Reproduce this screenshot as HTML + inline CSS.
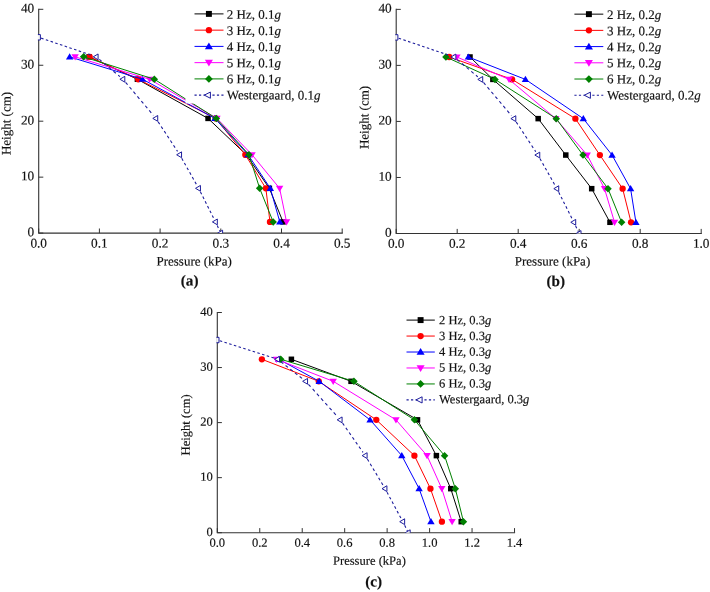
<!DOCTYPE html>
<html lang="en">
<head>
<meta charset="utf-8">
<title>Hydrodynamic pressure distribution along height</title>
<style>
html,body{margin:0;padding:0;background:#fff;}
body{width:710px;height:592px;overflow:hidden;}
svg{display:block;font-family:"Liberation Serif","Times New Roman",serif;}
text{fill:#111;stroke:#111;stroke-width:0.16px;}
.b{font-weight:bold;}
.i{font-style:italic;}
</style>
</head>
<body>
<svg width="710" height="592" viewBox="0 0 710 592">
<rect width="710" height="592" fill="#fff"/>

<g id="panel-a" font-size="13">
<clipPath id="clip-a"><rect x="37.5" y="3.3" width="311.5" height="229.8"/></clipPath>
<polyline points="89.08,56.86 137.4,79.24 208.05,118.4 246.29,154.77 269.36,188.34 283.02,221.91" fill="none" stroke="#000000" stroke-width="1.0" stroke-linejoin="round"/>
<rect x="86.33" y="54.11" width="5.5" height="5.5" fill="#000000"/>
<rect x="134.65" y="76.49" width="5.5" height="5.5" fill="#000000"/>
<rect x="205.3" y="115.65" width="5.5" height="5.5" fill="#000000"/>
<rect x="243.54" y="152.02" width="5.5" height="5.5" fill="#000000"/>
<rect x="266.61" y="185.59" width="5.5" height="5.5" fill="#000000"/>
<rect x="280.27" y="219.16" width="5.5" height="5.5" fill="#000000"/>
<polyline points="89.69,56.86 138.25,79.24 215.64,118.4 245.32,154.77 265.84,188.34 269.97,221.91" fill="none" stroke="#ff0000" stroke-width="1.0" stroke-linejoin="round"/>
<circle cx="89.69" cy="56.86" r="3.15" fill="#ff0000"/>
<circle cx="138.25" cy="79.24" r="3.15" fill="#ff0000"/>
<circle cx="215.64" cy="118.4" r="3.15" fill="#ff0000"/>
<circle cx="245.32" cy="154.77" r="3.15" fill="#ff0000"/>
<circle cx="265.84" cy="188.34" r="3.15" fill="#ff0000"/>
<circle cx="269.97" cy="221.91" r="3.15" fill="#ff0000"/>
<polyline points="69.66,56.86 142.5,79.24 214.91,118.4 248.12,154.77 270.33,188.34 279.8,221.91" fill="none" stroke="#0000ff" stroke-width="1.0" stroke-linejoin="round"/>
<path d="M69.66 53.26L73.36 59.46L65.96 59.46Z" fill="#0000ff"/>
<path d="M142.5 75.64L146.2 81.84L138.8 81.84Z" fill="#0000ff"/>
<path d="M214.91 114.8L218.61 121L211.21 121Z" fill="#0000ff"/>
<path d="M248.12 151.17L251.81 157.37L244.42 157.37Z" fill="#0000ff"/>
<path d="M270.33 184.74L274.03 190.94L266.63 190.94Z" fill="#0000ff"/>
<path d="M279.8 218.31L283.5 224.51L276.1 224.51Z" fill="#0000ff"/>
<polyline points="75.12,56.86 149.6,79.24 216.92,118.4 252.06,154.77 279.62,188.34 286.54,221.91" fill="none" stroke="#ff00ff" stroke-width="1.0" stroke-linejoin="round"/>
<path d="M75.12 60.46L78.82 54.26L71.42 54.26Z" fill="#ff00ff"/>
<path d="M149.6 82.84L153.3 76.64L145.9 76.64Z" fill="#ff00ff"/>
<path d="M216.92 122L220.62 115.8L213.22 115.8Z" fill="#ff00ff"/>
<path d="M252.06 158.37L255.76 152.17L248.36 152.17Z" fill="#ff00ff"/>
<path d="M279.62 191.94L283.32 185.74L275.92 185.74Z" fill="#ff00ff"/>
<path d="M286.54 225.51L290.24 219.31L282.84 219.31Z" fill="#ff00ff"/>
<polyline points="83.62,56.86 154.33,79.24 216.31,118.4 249.03,154.77 259.65,188.34 273.18,221.91" fill="none" stroke="#008000" stroke-width="1.0" stroke-linejoin="round"/>
<path d="M83.62 53.11L87.37 56.86L83.62 60.61L79.87 56.86Z" fill="#008000"/>
<path d="M154.33 75.49L158.08 79.24L154.33 82.99L150.58 79.24Z" fill="#008000"/>
<path d="M216.31 114.65L220.06 118.4L216.31 122.15L212.56 118.4Z" fill="#008000"/>
<path d="M249.03 151.02L252.78 154.77L249.03 158.52L245.28 154.77Z" fill="#008000"/>
<path d="M259.65 184.59L263.4 188.34L259.65 192.09L255.9 188.34Z" fill="#008000"/>
<path d="M273.18 218.16L276.93 221.91L273.18 225.66L269.43 221.91Z" fill="#008000"/>
<rect x="185.5" y="2" width="170" height="101.5" fill="#fff"/>
<g clip-path="url(#clip-a)" fill="none" stroke="#1c1c9c" stroke-width="1.1">
<path d="M41.16 38.11L92.5 55.57" stroke-dasharray="2.53 2.43"/>
<path d="M99.35 59.43L119.93 76.67" stroke-dasharray="3.13 3"/>
<path d="M125.57 82.3L153.34 115.34" stroke-dasharray="3.13 3"/>
<path d="M158.1 121.75L177.56 151.42" stroke-dasharray="2.87 2.75"/>
<path d="M181.72 158.26L196.68 184.85" stroke-dasharray="2.75 2.64"/>
<path d="M200.44 191.91L213.72 218.34" stroke-dasharray="2.69 2.57"/>
<path d="M217.23 225.53L219.95 231.29" stroke-dasharray="2.65 2.54"/>
</g>
<g stroke="#333333" stroke-width="1.1" fill="none">
<path d="M38.7 8.7V233.1H342.8"/>
<path d="M38.7 233.1h4.6M38.7 177.15h4.6M38.7 121.2h4.6M38.7 65.25h4.6M38.7 9.3h4.6M38.7 233.1v-4.6M99.4 233.1v-4.6M160.1 233.1v-4.6M220.8 233.1v-4.6M281.5 233.1v-4.6M342.2 233.1v-4.6" stroke-width="1"/>
</g>
<g clip-path="url(#clip-a)">
<path d="M37.8 34.58H40.4V39.98H37.8" fill="#f4f4f4" stroke="#1c1c9c" stroke-width="1"/>
<path d="M93.19 56.86L98.09 53.96L98.09 59.76Z" fill="#fff" stroke="#1c1c9c" stroke-width="1"/>
<path d="M119.9 79.24L124.8 76.34L124.8 82.14Z" fill="#fff" stroke="#1c1c9c" stroke-width="1"/>
<path d="M152.81 118.4L157.71 115.5L157.71 121.3Z" fill="#fff" stroke="#1c1c9c" stroke-width="1"/>
<path d="M176.65 154.77L181.55 151.87L181.55 157.67Z" fill="#fff" stroke="#1c1c9c" stroke-width="1"/>
<path d="M195.54 188.34L200.44 185.44L200.44 191.24Z" fill="#fff" stroke="#1c1c9c" stroke-width="1"/>
<path d="M212.42 221.91L217.32 219.01L217.32 224.81Z" fill="#fff" stroke="#1c1c9c" stroke-width="1"/>
<path d="M217.7 233.1L222.6 230.2L222.6 236Z" fill="#fff" stroke="#1c1c9c" stroke-width="1"/>
</g>
<g text-anchor="end" font-size="13.3">
<text transform="translate(34.2 236.3) rotate(0.03)" font-size="13.3" text-anchor="end">0</text>
<text transform="translate(34.2 180.35) rotate(0.03)" font-size="13.3" text-anchor="end">10</text>
<text transform="translate(34.2 124.4) rotate(0.03)" font-size="13.3" text-anchor="end">20</text>
<text transform="translate(34.2 68.45) rotate(0.03)" font-size="13.3" text-anchor="end">30</text>
<text transform="translate(34.2 12.5) rotate(0.03)" font-size="13.3" text-anchor="end">40</text>
</g>
<g text-anchor="middle" font-size="13.3">
<text transform="translate(38.7 247.45) rotate(0.03)" font-size="13.3" text-anchor="middle">0.0</text>
<text transform="translate(99.4 247.45) rotate(0.03)" font-size="13.3" text-anchor="middle">0.1</text>
<text transform="translate(160.1 247.45) rotate(0.03)" font-size="13.3" text-anchor="middle">0.2</text>
<text transform="translate(220.8 247.45) rotate(0.03)" font-size="13.3" text-anchor="middle">0.3</text>
<text transform="translate(281.5 247.45) rotate(0.03)" font-size="13.3" text-anchor="middle">0.4</text>
<text transform="translate(342.2 247.45) rotate(0.03)" font-size="13.3" text-anchor="middle">0.5</text>
</g>
<text transform="translate(194.2 265.45) rotate(0.03)" font-size="13" text-anchor="middle">Pressure (kPa)</text>
<text transform="translate(189.6 285.5) rotate(0.03)" font-size="15.2" text-anchor="middle" class="b">(a)</text>
<text transform="translate(10.5 123.5) rotate(-90.03)" font-size="13" text-anchor="middle">Height (cm)</text>
<path d="M194.5 13.9H223.5" stroke="#000000" stroke-width="1.0"/>
<rect x="205.93" y="10.93" width="5.94" height="5.94" fill="#000000"/>
<text transform="translate(226.8 18.8) rotate(0.03)" font-size="13">2 Hz, 0.1<tspan class="i">g</tspan></text>
<path d="M194.5 30.15H223.5" stroke="#ff0000" stroke-width="1.0"/>
<circle cx="208.9" cy="30.15" r="3.15" fill="#ff0000"/>
<text transform="translate(226.8 34.91) rotate(0.03)" font-size="13">3 Hz, 0.1<tspan class="i">g</tspan></text>
<path d="M194.5 46.4H223.5" stroke="#0000ff" stroke-width="1.0"/>
<path d="M208.9 42.48L212.93 49.23L204.87 49.23Z" fill="#0000ff"/>
<text transform="translate(226.8 51.02) rotate(0.03)" font-size="13">4 Hz, 0.1<tspan class="i">g</tspan></text>
<path d="M194.5 62.65H223.5" stroke="#ff00ff" stroke-width="1.0"/>
<path d="M208.9 66.57L212.93 59.82L204.87 59.82Z" fill="#ff00ff"/>
<text transform="translate(226.8 67.13) rotate(0.03)" font-size="13">5 Hz, 0.1<tspan class="i">g</tspan></text>
<path d="M194.5 78.9H223.5" stroke="#008000" stroke-width="1.0"/>
<path d="M208.9 75L212.8 78.9L208.9 82.8L205 78.9Z" fill="#008000"/>
<text transform="translate(226.8 83.24) rotate(0.03)" font-size="13">6 Hz, 0.1<tspan class="i">g</tspan></text>
<path d="M194.5 95.15H223.5" stroke="#1c1c9c" stroke-width="1.1" stroke-dasharray="2.2 2.28" fill="none"/>
<path d="M204.3 95.15L210.4 92.05L210.4 98.25Z" fill="#fff" stroke="#1c1c9c" stroke-width="1"/>
<text transform="translate(226.8 99.35) rotate(0.03)" font-size="13">Westergaard, 0.1<tspan class="i">g</tspan></text>
</g>
<g id="panel-b" font-size="13">
<clipPath id="clip-b"><rect x="395" y="3.36" width="313" height="230.14"/></clipPath>
<polyline points="470.01,56.99 492.88,79.4 538.18,118.63 565.78,155.05 591.7,188.67 609.97,222.29" fill="none" stroke="#000000" stroke-width="1.0" stroke-linejoin="round"/>
<rect x="467.26" y="54.24" width="5.5" height="5.5" fill="#000000"/>
<rect x="490.13" y="76.65" width="5.5" height="5.5" fill="#000000"/>
<rect x="535.43" y="115.88" width="5.5" height="5.5" fill="#000000"/>
<rect x="563.03" y="152.3" width="5.5" height="5.5" fill="#000000"/>
<rect x="588.95" y="185.92" width="5.5" height="5.5" fill="#000000"/>
<rect x="607.22" y="219.54" width="5.5" height="5.5" fill="#000000"/>
<polyline points="449.18,56.99 512.1,79.4 575.39,118.63 599.88,155.05 622.63,188.67 631.05,222.29" fill="none" stroke="#ff0000" stroke-width="1.0" stroke-linejoin="round"/>
<circle cx="449.18" cy="56.99" r="3.15" fill="#ff0000"/>
<circle cx="512.1" cy="79.4" r="3.15" fill="#ff0000"/>
<circle cx="575.39" cy="118.63" r="3.15" fill="#ff0000"/>
<circle cx="599.88" cy="155.05" r="3.15" fill="#ff0000"/>
<circle cx="622.63" cy="188.67" r="3.15" fill="#ff0000"/>
<circle cx="631.05" cy="222.29" r="3.15" fill="#ff0000"/>
<polyline points="468.33,56.99 525.43,79.4 583.32,118.63 612.05,155.05 630.59,188.67 635.93,222.29" fill="none" stroke="#0000ff" stroke-width="1.0" stroke-linejoin="round"/>
<path d="M468.33 53.39L472.03 59.59L464.63 59.59Z" fill="#0000ff"/>
<path d="M525.43 75.8L529.13 82L521.73 82Z" fill="#0000ff"/>
<path d="M583.32 115.03L587.02 121.23L579.62 121.23Z" fill="#0000ff"/>
<path d="M612.05 151.45L615.75 157.65L608.35 157.65Z" fill="#0000ff"/>
<path d="M630.59 185.07L634.29 191.27L626.89 191.27Z" fill="#0000ff"/>
<path d="M635.93 218.69L639.63 224.89L632.23 224.89Z" fill="#0000ff"/>
<polyline points="456.89,56.99 509.05,79.4 555.72,118.63 587.22,155.05 604.51,188.67 614.52,222.29" fill="none" stroke="#ff00ff" stroke-width="1.0" stroke-linejoin="round"/>
<path d="M456.89 60.59L460.59 54.39L453.19 54.39Z" fill="#ff00ff"/>
<path d="M509.05 83L512.75 76.8L505.35 76.8Z" fill="#ff00ff"/>
<path d="M555.72 122.23L559.42 116.03L552.01 116.03Z" fill="#ff00ff"/>
<path d="M587.22 158.65L590.92 152.45L583.52 152.45Z" fill="#ff00ff"/>
<path d="M604.51 192.27L608.22 186.07L600.81 186.07Z" fill="#ff00ff"/>
<path d="M614.52 225.89L618.22 219.69L610.82 219.69Z" fill="#ff00ff"/>
<polyline points="445.91,56.99 495.02,79.4 556.26,118.63 582.98,155.05 608.02,188.67 621.6,222.29" fill="none" stroke="#008000" stroke-width="1.0" stroke-linejoin="round"/>
<path d="M445.91 53.24L449.66 56.99L445.91 60.74L442.16 56.99Z" fill="#008000"/>
<path d="M495.02 75.65L498.77 79.4L495.02 83.15L491.27 79.4Z" fill="#008000"/>
<path d="M556.26 114.88L560.01 118.63L556.26 122.38L552.51 118.63Z" fill="#008000"/>
<path d="M582.98 151.3L586.73 155.05L582.98 158.8L579.23 155.05Z" fill="#008000"/>
<path d="M608.02 184.92L611.77 188.67L608.02 192.42L604.27 188.67Z" fill="#008000"/>
<path d="M621.6 218.54L625.35 222.29L621.6 226.04L617.85 222.29Z" fill="#008000"/>
<g clip-path="url(#clip-b)" fill="none" stroke="#1c1c9c" stroke-width="1.1">
<path d="M398.66 38.21L450.28 55.71" stroke-dasharray="2.53 2.43"/>
<path d="M457.14 59.55L477.84 76.84" stroke-dasharray="3.13 3"/>
<path d="M483.49 82.46L511.41 115.57" stroke-dasharray="3.14 3.01"/>
<path d="M516.19 121.97L535.75 151.71" stroke-dasharray="2.87 2.75"/>
<path d="M539.92 158.53L554.96 185.19" stroke-dasharray="2.76 2.64"/>
<path d="M558.73 192.24L572.09 218.72" stroke-dasharray="2.69 2.58"/>
<path d="M575.61 225.91L578.34 231.69" stroke-dasharray="2.66 2.54"/>
</g>
<g stroke="#333333" stroke-width="1.1" fill="none">
<path d="M396.2 8.76V233.5H701.8"/>
<path d="M396.2 233.5h4.6M396.2 177.47h4.6M396.2 121.43h4.6M396.2 65.39h4.6M396.2 9.36h4.6M396.2 233.5v-4.6M457.2 233.5v-4.6M518.2 233.5v-4.6M579.2 233.5v-4.6M640.2 233.5v-4.6M701.2 233.5v-4.6" stroke-width="1"/>
</g>
<g clip-path="url(#clip-b)">
<path d="M395.3 34.68H397.9V40.08H395.3" fill="#f4f4f4" stroke="#1c1c9c" stroke-width="1"/>
<path d="M450.97 56.99L455.87 54.09L455.87 59.89Z" fill="#fff" stroke="#1c1c9c" stroke-width="1"/>
<path d="M477.81 79.4L482.71 76.5L482.71 82.3Z" fill="#fff" stroke="#1c1c9c" stroke-width="1"/>
<path d="M510.89 118.63L515.79 115.73L515.79 121.53Z" fill="#fff" stroke="#1c1c9c" stroke-width="1"/>
<path d="M534.85 155.05L539.75 152.15L539.75 157.95Z" fill="#fff" stroke="#1c1c9c" stroke-width="1"/>
<path d="M553.83 188.67L558.73 185.77L558.73 191.57Z" fill="#fff" stroke="#1c1c9c" stroke-width="1"/>
<path d="M570.79 222.29L575.69 219.39L575.69 225.19Z" fill="#fff" stroke="#1c1c9c" stroke-width="1"/>
<path d="M576.1 233.5L581 230.6L581 236.4Z" fill="#fff" stroke="#1c1c9c" stroke-width="1"/>
</g>
<g text-anchor="end" font-size="13.3">
<text transform="translate(391.7 236.7) rotate(0.03)" font-size="13.3" text-anchor="end">0</text>
<text transform="translate(391.7 180.66) rotate(0.03)" font-size="13.3" text-anchor="end">10</text>
<text transform="translate(391.7 124.63) rotate(0.03)" font-size="13.3" text-anchor="end">20</text>
<text transform="translate(391.7 68.59) rotate(0.03)" font-size="13.3" text-anchor="end">30</text>
<text transform="translate(391.7 12.56) rotate(0.03)" font-size="13.3" text-anchor="end">40</text>
</g>
<g text-anchor="middle" font-size="13.3">
<text transform="translate(396.2 247.85) rotate(0.03)" font-size="13.3" text-anchor="middle">0.0</text>
<text transform="translate(457.2 247.85) rotate(0.03)" font-size="13.3" text-anchor="middle">0.2</text>
<text transform="translate(518.2 247.85) rotate(0.03)" font-size="13.3" text-anchor="middle">0.4</text>
<text transform="translate(579.2 247.85) rotate(0.03)" font-size="13.3" text-anchor="middle">0.6</text>
<text transform="translate(640.2 247.85) rotate(0.03)" font-size="13.3" text-anchor="middle">0.8</text>
<text transform="translate(701.2 247.85) rotate(0.03)" font-size="13.3" text-anchor="middle">1.0</text>
</g>
<text transform="translate(552.5 265.45) rotate(0.03)" font-size="13" text-anchor="middle">Pressure (kPa)</text>
<text transform="translate(555.7 286) rotate(0.03)" font-size="15.2" text-anchor="middle" class="b">(b)</text>
<text transform="translate(368.4 117.5) rotate(-90.03)" font-size="13" text-anchor="middle">Height (cm)</text>
<path d="M574.4 14.15H603.3" stroke="#000000" stroke-width="1.0"/>
<rect x="585.93" y="11.18" width="5.94" height="5.94" fill="#000000"/>
<text transform="translate(607.1 19.05) rotate(0.03)" font-size="13">2 Hz, 0.2<tspan class="i">g</tspan></text>
<path d="M574.4 30.37H603.3" stroke="#ff0000" stroke-width="1.0"/>
<circle cx="588.9" cy="30.37" r="3.15" fill="#ff0000"/>
<text transform="translate(607.1 35.13) rotate(0.03)" font-size="13">3 Hz, 0.2<tspan class="i">g</tspan></text>
<path d="M574.4 46.59H603.3" stroke="#0000ff" stroke-width="1.0"/>
<path d="M588.9 42.67L592.93 49.42L584.87 49.42Z" fill="#0000ff"/>
<text transform="translate(607.1 51.21) rotate(0.03)" font-size="13">4 Hz, 0.2<tspan class="i">g</tspan></text>
<path d="M574.4 62.81H603.3" stroke="#ff00ff" stroke-width="1.0"/>
<path d="M588.9 66.73L592.93 59.98L584.87 59.98Z" fill="#ff00ff"/>
<text transform="translate(607.1 67.29) rotate(0.03)" font-size="13">5 Hz, 0.2<tspan class="i">g</tspan></text>
<path d="M574.4 79.03H603.3" stroke="#008000" stroke-width="1.0"/>
<path d="M588.9 75.13L592.8 79.03L588.9 82.93L585 79.03Z" fill="#008000"/>
<text transform="translate(607.1 83.37) rotate(0.03)" font-size="13">6 Hz, 0.2<tspan class="i">g</tspan></text>
<path d="M574.4 95.25H603.3" stroke="#1c1c9c" stroke-width="1.1" stroke-dasharray="2.2 2.28" fill="none"/>
<path d="M584.3 95.25L590.4 92.15L590.4 98.35Z" fill="#fff" stroke="#1c1c9c" stroke-width="1"/>
<text transform="translate(607.1 99.45) rotate(0.03)" font-size="13">Westergaard, 0.2<tspan class="i">g</tspan></text>
</g>
<g id="panel-c" font-size="12.55">
<clipPath id="clip-c"><rect x="216.1" y="306.5" width="305.22" height="226.2"/></clipPath>
<polyline points="291.39,359.29 351.05,381.31 417.5,419.85 436.39,455.63 450.77,488.66 461.23,521.69" fill="none" stroke="#000000" stroke-width="1.0" stroke-linejoin="round"/>
<rect x="288.64" y="356.54" width="5.5" height="5.5" fill="#000000"/>
<rect x="348.3" y="378.56" width="5.5" height="5.5" fill="#000000"/>
<rect x="414.75" y="417.1" width="5.5" height="5.5" fill="#000000"/>
<rect x="433.64" y="452.88" width="5.5" height="5.5" fill="#000000"/>
<rect x="448.02" y="485.91" width="5.5" height="5.5" fill="#000000"/>
<rect x="458.48" y="518.94" width="5.5" height="5.5" fill="#000000"/>
<polyline points="261.88,359.29 318.78,381.31 376.31,419.85 414.42,455.63 430.45,488.66 441.91,521.69" fill="none" stroke="#ff0000" stroke-width="1.0" stroke-linejoin="round"/>
<circle cx="261.88" cy="359.29" r="3.15" fill="#ff0000"/>
<circle cx="318.78" cy="381.31" r="3.15" fill="#ff0000"/>
<circle cx="376.31" cy="419.85" r="3.15" fill="#ff0000"/>
<circle cx="414.42" cy="455.63" r="3.15" fill="#ff0000"/>
<circle cx="430.45" cy="488.66" r="3.15" fill="#ff0000"/>
<circle cx="441.91" cy="521.69" r="3.15" fill="#ff0000"/>
<polyline points="278.87,359.29 319.2,381.31 370.09,419.85 401.79,455.63 419.11,488.66 430.96,521.69" fill="none" stroke="#0000ff" stroke-width="1.0" stroke-linejoin="round"/>
<path d="M278.87 355.69L282.57 361.89L275.17 361.89Z" fill="#0000ff"/>
<path d="M319.2 377.71L322.9 383.91L315.5 383.91Z" fill="#0000ff"/>
<path d="M370.09 416.25L373.79 422.45L366.39 422.45Z" fill="#0000ff"/>
<path d="M401.79 452.03L405.49 458.23L398.09 458.23Z" fill="#0000ff"/>
<path d="M419.11 485.06L422.81 491.26L415.41 491.26Z" fill="#0000ff"/>
<path d="M430.96 518.09L434.66 524.29L427.26 524.29Z" fill="#0000ff"/>
<polyline points="276.53,359.29 333.22,381.31 395.99,419.85 427.05,455.63 441.81,488.66 452.1,521.69" fill="none" stroke="#ff00ff" stroke-width="1.0" stroke-linejoin="round"/>
<path d="M276.53 362.89L280.23 356.69L272.83 356.69Z" fill="#ff00ff"/>
<path d="M333.22 384.91L336.92 378.71L329.52 378.71Z" fill="#ff00ff"/>
<path d="M395.99 423.45L399.69 417.25L392.29 417.25Z" fill="#ff00ff"/>
<path d="M427.05 459.23L430.75 453.03L423.35 453.03Z" fill="#ff00ff"/>
<path d="M441.81 492.26L445.51 486.06L438.11 486.06Z" fill="#ff00ff"/>
<path d="M452.1 525.29L455.8 519.09L448.4 519.09Z" fill="#ff00ff"/>
<polyline points="280.78,359.29 353.92,381.31 414.42,419.85 444.57,455.63 455.33,488.66 463.46,521.69" fill="none" stroke="#008000" stroke-width="1.0" stroke-linejoin="round"/>
<path d="M280.78 355.54L284.53 359.29L280.78 363.04L277.03 359.29Z" fill="#008000"/>
<path d="M353.92 377.56L357.67 381.31L353.92 385.06L350.17 381.31Z" fill="#008000"/>
<path d="M414.42 416.1L418.17 419.85L414.42 423.6L410.67 419.85Z" fill="#008000"/>
<path d="M444.57 451.88L448.32 455.63L444.57 459.38L440.82 455.63Z" fill="#008000"/>
<path d="M455.33 484.91L459.08 488.66L455.33 492.41L451.58 488.66Z" fill="#008000"/>
<path d="M463.46 517.94L467.21 521.69L463.46 525.44L459.71 521.69Z" fill="#008000"/>
<g clip-path="url(#clip-c)" fill="none" stroke="#1c1c9c" stroke-width="1.1">
<path d="M219.78 340.81L273.91 358.08" stroke-dasharray="2.52 2.41"/>
<path d="M280.87 361.76L302.6 378.84" stroke-dasharray="3.05 2.92"/>
<path d="M308.42 384.29L337.61 416.87" stroke-dasharray="3.22 3.09"/>
<path d="M342.57 423.13L363.01 452.35" stroke-dasharray="2.93 2.81"/>
<path d="M367.36 459.06L383.06 485.23" stroke-dasharray="2.8 2.68"/>
<path d="M387.01 492.19L400.94 518.16" stroke-dasharray="2.72 2.61"/>
<path d="M404.63 525.26L407.47 530.91" stroke-dasharray="2.69 2.57"/>
</g>
<g stroke="#333333" stroke-width="1.1" fill="none">
<path d="M217.3 311.9V532.7H515.12"/>
<path d="M217.3 532.7h4.6M217.3 477.65h4.6M217.3 422.6h4.6M217.3 367.55h4.6M217.3 312.5h4.6M217.3 532.7v-4.6M259.76 532.7v-4.6M302.22 532.7v-4.6M344.68 532.7v-4.6M387.14 532.7v-4.6M429.6 532.7v-4.6M472.06 532.7v-4.6M514.52 532.7v-4.6" stroke-width="1"/>
</g>
<g clip-path="url(#clip-c)">
<path d="M216.4 337.33H219V342.73H216.4" fill="#f4f4f4" stroke="#1c1c9c" stroke-width="1"/>
<path d="M274.62 359.29L279.52 356.39L279.52 362.19Z" fill="#fff" stroke="#1c1c9c" stroke-width="1"/>
<path d="M302.65 381.31L307.55 378.41L307.55 384.21Z" fill="#fff" stroke="#1c1c9c" stroke-width="1"/>
<path d="M337.18 419.85L342.08 416.95L342.08 422.75Z" fill="#fff" stroke="#1c1c9c" stroke-width="1"/>
<path d="M362.2 455.63L367.1 452.73L367.1 458.53Z" fill="#fff" stroke="#1c1c9c" stroke-width="1"/>
<path d="M382.02 488.66L386.92 485.76L386.92 491.56Z" fill="#fff" stroke="#1c1c9c" stroke-width="1"/>
<path d="M399.73 521.69L404.63 518.79L404.63 524.59Z" fill="#fff" stroke="#1c1c9c" stroke-width="1"/>
<path d="M405.27 532.7L410.17 529.8L410.17 535.6Z" fill="#fff" stroke="#1c1c9c" stroke-width="1"/>
</g>
<g text-anchor="end" font-size="12.55">
<text transform="translate(212.8 535.9) rotate(0.03)" font-size="12.55" text-anchor="end">0</text>
<text transform="translate(212.8 480.85) rotate(0.03)" font-size="12.55" text-anchor="end">10</text>
<text transform="translate(212.8 425.8) rotate(0.03)" font-size="12.55" text-anchor="end">20</text>
<text transform="translate(212.8 370.75) rotate(0.03)" font-size="12.55" text-anchor="end">30</text>
<text transform="translate(212.8 315.7) rotate(0.03)" font-size="12.55" text-anchor="end">40</text>
</g>
<g text-anchor="middle" font-size="12.55">
<text transform="translate(217.3 546.75) rotate(0.03)" font-size="12.55" text-anchor="middle">0.0</text>
<text transform="translate(259.76 546.75) rotate(0.03)" font-size="12.55" text-anchor="middle">0.2</text>
<text transform="translate(302.22 546.75) rotate(0.03)" font-size="12.55" text-anchor="middle">0.4</text>
<text transform="translate(344.68 546.75) rotate(0.03)" font-size="12.55" text-anchor="middle">0.6</text>
<text transform="translate(387.14 546.75) rotate(0.03)" font-size="12.55" text-anchor="middle">0.8</text>
<text transform="translate(429.6 546.75) rotate(0.03)" font-size="12.55" text-anchor="middle">1.0</text>
<text transform="translate(472.06 546.75) rotate(0.03)" font-size="12.55" text-anchor="middle">1.2</text>
<text transform="translate(514.52 546.75) rotate(0.03)" font-size="12.55" text-anchor="middle">1.4</text>
</g>
<text transform="translate(369.4 564.65) rotate(0.03)" font-size="12.55" text-anchor="middle">Pressure (kPa)</text>
<text transform="translate(373.6 586.5) rotate(0.03)" font-size="15.2" text-anchor="middle" class="b">(c)</text>
<text transform="translate(189.7 424.9) rotate(-90.03)" font-size="12.55" text-anchor="middle">Height (cm)</text>
<path d="M406.5 320.1H434.8" stroke="#000000" stroke-width="1.0"/>
<rect x="417.63" y="317.13" width="5.94" height="5.94" fill="#000000"/>
<text transform="translate(439 324.14) rotate(0.03)" font-size="12.55">2 Hz, 0.3<tspan class="i">g</tspan></text>
<path d="M406.5 336.06H434.8" stroke="#ff0000" stroke-width="1.0"/>
<circle cx="420.6" cy="336.06" r="3.15" fill="#ff0000"/>
<text transform="translate(439 339.96) rotate(0.03)" font-size="12.55">3 Hz, 0.3<tspan class="i">g</tspan></text>
<path d="M406.5 352.02H434.8" stroke="#0000ff" stroke-width="1.0"/>
<path d="M420.6 348.1L424.63 354.85L416.57 354.85Z" fill="#0000ff"/>
<text transform="translate(439 355.78) rotate(0.03)" font-size="12.55">4 Hz, 0.3<tspan class="i">g</tspan></text>
<path d="M406.5 367.98H434.8" stroke="#ff00ff" stroke-width="1.0"/>
<path d="M420.6 371.9L424.63 365.15L416.57 365.15Z" fill="#ff00ff"/>
<text transform="translate(439 371.6) rotate(0.03)" font-size="12.55">5 Hz, 0.3<tspan class="i">g</tspan></text>
<path d="M406.5 383.94H434.8" stroke="#008000" stroke-width="1.0"/>
<path d="M420.6 380.04L424.5 383.94L420.6 387.84L416.7 383.94Z" fill="#008000"/>
<text transform="translate(439 387.42) rotate(0.03)" font-size="12.55">6 Hz, 0.3<tspan class="i">g</tspan></text>
<path d="M406.5 399.9H434.8" stroke="#1c1c9c" stroke-width="1.1" stroke-dasharray="2.2 2.28" fill="none"/>
<path d="M416 399.9L422.1 396.8L422.1 403Z" fill="#fff" stroke="#1c1c9c" stroke-width="1"/>
<text transform="translate(439 403.24) rotate(0.03)" font-size="12.55">Westergaard, 0.3<tspan class="i">g</tspan></text>
</g>
</svg>
</body>
</html>
